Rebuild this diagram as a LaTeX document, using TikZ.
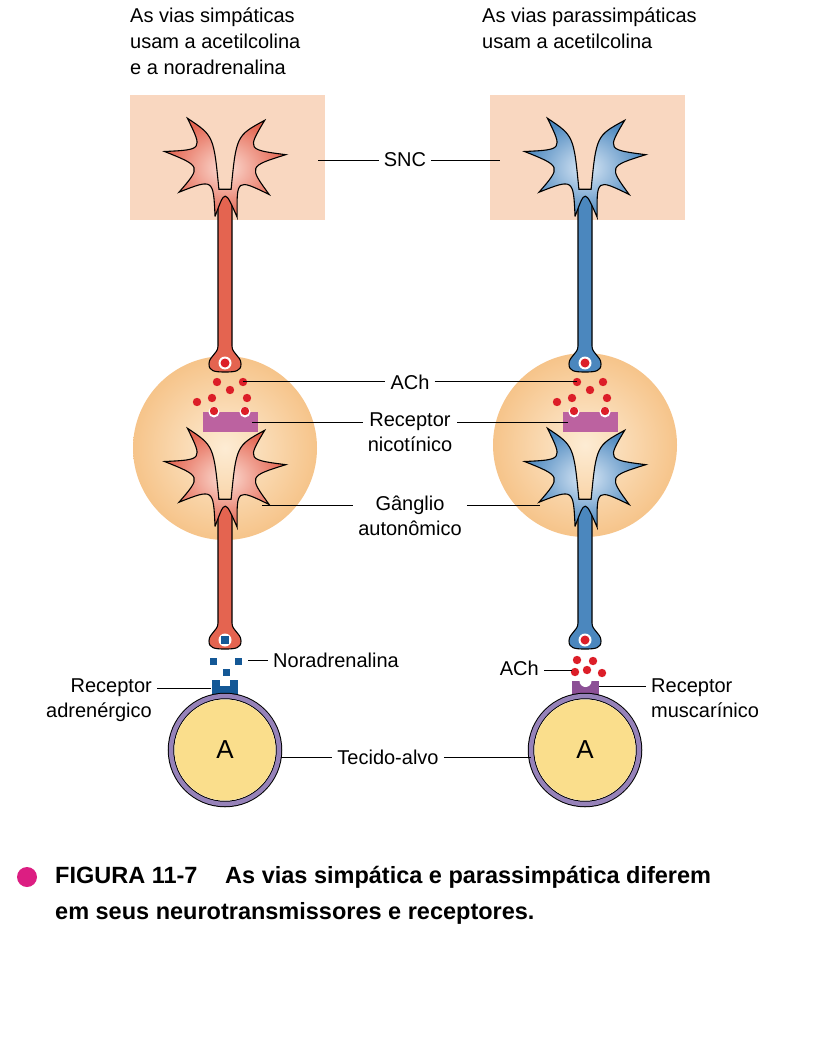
\documentclass[tikz,border=0pt]{standalone}
\usepackage{fontspec}
\setmainfont{Liberation Sans}
\begin{document}
\begin{tikzpicture}[x=1pt,y=-1pt,
 lbl/.style={font=\fontsize{20}{25}\selectfont,align=center,inner sep=5pt},
 hdr/.style={font=\fontsize{20}{26}\selectfont,align=left,anchor=north west,inner sep=0pt},
 ln/.style={line width=0.9pt},
 dot/.style={fill={rgb,255:red,220;green,30;blue,40},draw=none},
 ol/.style={draw=black,line width=1.1pt}]
\definecolor{redN}{RGB}{228,100,80}
\definecolor{redL}{RGB}{252,222,212}
\definecolor{bluN}{RGB}{75,135,190}
\definecolor{bluL}{RGB}{218,232,246}
\definecolor{boxC}{RGB}{249,215,192}
\definecolor{ganO}{RGB}{246,196,138}
\definecolor{ganI}{RGB}{253,236,212}
\definecolor{nicC}{RGB}{188,98,160}
\definecolor{musC}{RGB}{140,80,150}
\definecolor{adrC}{RGB}{20,88,150}
\definecolor{tgtC}{RGB}{250,222,140}
\definecolor{tgtR}{RGB}{150,130,185}
\definecolor{mag}{RGB}{220,30,130}
\useasboundingbox (0,0) rectangle (826,1048);
\fill[white] (0,0) rectangle (826,1048);
\newcommand{\mysoma}[4]{% x y outer inner
 \begin{scope}[shift={(#1,#2)},scale=1.22]
 \shade[inner color=#4,outer color=#3,ol,line join=miter] (100:47)
  .. controls (122:18) .. (145:46)
  .. controls (165:20) .. (188:50)
  .. controls (205:20) .. (228:46)
  .. controls (245:22) .. (-5,24)
  -- (5,24)
  .. controls (295:22) .. (315:46)
  .. controls (335:20) .. (355:50)
  .. controls (15:20) .. (38:46)
  .. controls (58:18) .. (78:48)
  .. controls (90:24) .. cycle;
 \end{scope}}
\newcommand{\myaxon}[4]{% x ytop ybulb color
 \draw[fill=#4,ol] (#1-7,#2) -- (#1-7,#3-14) .. controls (#1-7,#3-6) and (#1-16,#3-4) .. (#1-16,#3+4)
  .. controls (#1-16,#3+11) and (#1-11,#3+12) .. (#1,#3+12) .. controls (#1+11,#3+12) and (#1+16,#3+11) .. (#1+16,#3+4)
  .. controls (#1+16,#3-4) and (#1+7,#3-6) .. (#1+7,#3-14) -- (#1+7,#2);}
% headers
\node[hdr] (h1) at (130,8) {As vias simpáticas\\usam a acetilcolina\\e a noradrenalina};
\node[hdr] (h2) at (482,8) {As vias parassimpáticas\\usam a acetilcolina};
% boxes
\fill[boxC] (130,95) rectangle (325,220);
\fill[boxC] (490,95) rectangle (685,220);
% ganglia
\shade[inner color=ganI,outer color=ganO] (225,448) circle (92);
\shade[inner color=ganI,outer color=ganO] (585,445) circle (92);
% axons
\myaxon{225}{190}{360}{redN}
\myaxon{585}{190}{360}{bluN}
\myaxon{225}{500}{637}{redN}
\myaxon{585}{500}{637}{bluN}
% somas
\mysoma{225}{160}{redN}{redL}
\mysoma{585}{160}{bluN}{bluL}
% nicotinic receptors
\foreach \xo in {0,360}{
 \fill[nicC] (203+\xo,412) rectangle (258+\xo,432);
 \fill[white] (214+\xo,412) circle (5.5);
 \fill[white] (245+\xo,412) circle (5.5);
}
\mysoma{225}{470}{redN}{redL}
\mysoma{585}{470}{bluN}{bluL}
% ACh dots ganglia
\foreach \xo in {0,360}{
 \foreach \px/\py in {217/382,243/382,230/390,197/402,212/398,247/398,214/411,245/411}
  {\fill[dot] (\px+\xo,\py) circle (4.2);}
 \fill[white] (225+\xo,363) circle (6.5);
 \fill[dot] (225+\xo,363) circle (4.5);
 \fill[white] (225+\xo,640) circle (6.5);
}
\fill[adrC] (221,636) rectangle (229,644);
\fill[dot] (585,640) circle (4.5);
% noradrenalina
\foreach \px/\py in {213/661,238/661,226/672} \fill[adrC] (\px-3.5,\py-3.5) rectangle (\px+3.5,\py+3.5);
% adrenergic receptor
\fill[adrC] (212,686) rectangle (238,696);
\fill[adrC] (212,680) rectangle (220,686);
\fill[adrC] (230,680) rectangle (238,686);
% ACh right bottom
\foreach \px/\py in {577/660,593/661,575/672,602/673,587/670} \fill[dot] (\px,\py) circle (4.2);
\fill[musC] (572,681) rectangle (599,696);
\fill[white] (585.5,681) circle (6);
% target cells
\foreach \xc in {225,585}{
 \draw[black,line width=6.5pt] (\xc,750) circle (54);
 \draw[tgtR,line width=4.5pt] (\xc,750) circle (54);
 \fill[tgtC] (\xc,750) circle (50.5);
 \node[font=\fontsize{26}{28}\selectfont] (A\xc) at (\xc,750) {A};
}
% labels
\node[lbl] (snc) at (405,160) {SNC};
\node[lbl] (ach) at (410,382) {ACh};
\node[lbl] (nic) at (410,432) {Receptor\\nicotínico};
\node[lbl] (gan) at (410,516) {Gânglio\\autonômico};
\node[lbl,anchor=west] (nor) at (268,660) {Noradrenalina};
\node[lbl,align=right,anchor=east] (adr) at (157,700) {Receptor\\adrenérgico};
\node[lbl] (tec) at (388,757) {Tecido-alvo};
\node[lbl,anchor=east] (ach2) at (544,668) {ACh};
\node[lbl,align=left,anchor=west] (mus) at (646,698) {Receptor\\muscarínico};
% leader lines
\coordinate (s1) at (318,160); \coordinate (s2) at (500,160);
\draw[ln] (s1) -- (snc.west); \draw[ln] (snc.east) -- (s2);
\coordinate (a1) at (243,381); \coordinate (a2) at (577,381);
\draw[ln] (a1) -- (a1-|ach.west); \draw[ln] (a2-|ach.east) -- (a2);
\coordinate (n1) at (252,422); \coordinate (n2) at (568,422);
\draw[ln] (n1) -- (n1-|nic.west); \draw[ln] (n2-|nic.east) -- (n2);
\coordinate (g1) at (262,505); \coordinate (g2) at (540,505);
\draw[ln] (g1) -- (g1-|gan.west); \draw[ln] (g2-|gan.east) -- (g2);
\coordinate (nr) at (248,660); \draw[ln] (nr) -- (nor.west);
\coordinate (ad) at (211,688); \draw[ln] (ad-|adr.east) -- (ad);
\coordinate (t1) at (281,757); \coordinate (t2) at (531,757);
\draw[ln] (t1) -- (tec.west); \draw[ln] (tec.east) -- (t2);
\coordinate (ac) at (572,670); \draw[ln] (ach2.east|-ac) -- (ac);
\coordinate (ms) at (599,686); \draw[ln] (ms) -- (ms-|mus.west);
% caption
\fill[mag] (27,877) circle (10);
\node[anchor=west,align=left,inner sep=0pt,font=\fontsize{23.5}{36}\selectfont\bfseries] (cap) at (55,895)
 {FIGURA 11-7\hspace{0.9em} As vias simpática e parassimpática diferem\\em seus neurotransmissores e receptores.};
\end{tikzpicture}
\end{document}
